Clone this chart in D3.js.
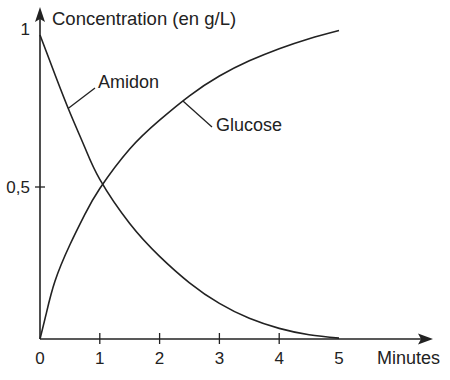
<!DOCTYPE html>
<html>
<head>
<meta charset="utf-8">
<script src="https://cdn.jsdelivr.net/npm/d3@7"></script>
<style>
  html, body { margin: 0; padding: 0; background: #fff; }
  svg text { font-family: "Liberation Sans", Arial, Helvetica, sans-serif; fill: #222; }
</style>
</head>
<body>
<svg id="chart" width="450" height="380"></svg>
<script>
// ---- data ----
const time    = [0, 0.1, 0.25, 0.5, 0.75, 1, 1.5, 2, 2.5, 3, 3.5, 4, 4.5, 5];
const amidon  = [1.0, 0.948, 0.87, 0.745, 0.63, 0.525, 0.38, 0.272, 0.185, 0.117, 0.068, 0.035, 0.014, 0.003];
const glucose = [0, 0.08, 0.19, 0.31, 0.41, 0.495, 0.625, 0.72, 0.8, 0.865, 0.915, 0.955, 0.988, 1.015];
const xTickValues = [0, 1, 2, 3, 4, 5];
const xTickLabels = ["0", "1", "2", "3", "4", "5"];
const xTickMarks  = [1, 2, 3, 4];
const yTickValues = [0.5, 1];
const yTickLabels = ["0,5", "1"];
const yTickMarks  = [0.5];
const yTitle = "Concentration (en g/L)";
const xTitle = "Minutes";
const seriesLabels = ["Amidon", "Glucose"];

// ---- scales ----
const x = d3.scaleLinear().domain([0, 5]).range([40, 339]);
const y = d3.scaleLinear().domain([0, 1]).range([339, 35]);

const svg = d3.select("#chart");
const ink = "#222";

// axes lines
svg.append("line").attr("x1", x(0)).attr("y1", y(0)).attr("x2", 425).attr("y2", y(0))
  .attr("stroke", ink).attr("stroke-width", 1.6);
svg.append("line").attr("x1", x(0)).attr("y1", y(0)).attr("x2", x(0)).attr("y2", 16)
  .attr("stroke", ink).attr("stroke-width", 1.6);
// arrowheads
svg.append("path").attr("d", `M433,${y(0)} L418,${y(0)-5.5} L421,${y(0)} L418,${y(0)+5.5} Z`).attr("fill", ink);
svg.append("path").attr("d", `M${x(0)},7 L${x(0)-5},22 L${x(0)},19 L${x(0)+5},22 Z`).attr("fill", ink);

// tick marks
svg.selectAll(".xt").data(xTickMarks).enter().append("line")
  .attr("x1", d => x(d)).attr("x2", d => x(d)).attr("y1", y(0) - 6).attr("y2", y(0) + 5)
  .attr("stroke", ink).attr("stroke-width", 1.3);
svg.selectAll(".yt").data(yTickMarks).enter().append("line")
  .attr("x1", x(0) - 5).attr("x2", x(0) + 5).attr("y1", d => y(d)).attr("y2", d => y(d))
  .attr("stroke", ink).attr("stroke-width", 1.3);

// tick labels
svg.selectAll(".xl").data(xTickValues).enter().append("text")
  .attr("x", d => x(d)).attr("y", 364).attr("text-anchor", "middle")
  .attr("font-size", 17).text((d, i) => xTickLabels[i]);
svg.selectAll(".yl").data(yTickValues).enter().append("text")
  .attr("x", 30).attr("y", (d, i) => i === 0 ? y(d) + 6 : 35).attr("text-anchor", "end")
  .attr("font-size", 17).text((d, i) => yTickLabels[i]);

// titles
svg.append("text").attr("x", 52).attr("y", 25).attr("font-size", 18.5).text(yTitle);
svg.append("text").attr("x", 377).attr("y", 364).attr("font-size", 18).text(xTitle);

// curves
const line = d3.line().x(d => x(d[0])).y(d => y(d[1])).curve(d3.curveNatural);
const amidonPts = time.map((t, i) => [t, amidon[i]]);
const glucosePts = time.map((t, i) => [t, glucose[i]]);
svg.append("path").attr("d", line(amidonPts)).attr("fill", "none").attr("stroke", ink).attr("stroke-width", 1.6);
svg.append("path").attr("d", line(glucosePts)).attr("fill", "none").attr("stroke", ink).attr("stroke-width", 1.6);

// labels with leader lines
const aT = 0.47, aV = 0.758;
svg.append("line").attr("x1", x(aT)).attr("y1", y(aV)).attr("x2", 95).attr("y2", 88)
  .attr("stroke", ink).attr("stroke-width", 1.3);
svg.append("text").attr("x", 98).attr("y", 88).attr("font-size", 18).text(seriesLabels[0]);

const gT = 2.39, gV = 0.783;
svg.append("line").attr("x1", x(gT)).attr("y1", y(gV)).attr("x2", 212).attr("y2", 127)
  .attr("stroke", ink).attr("stroke-width", 1.3);
svg.append("text").attr("x", 216).attr("y", 131).attr("font-size", 18).text(seriesLabels[1]);
</script>
</body>
</html>
